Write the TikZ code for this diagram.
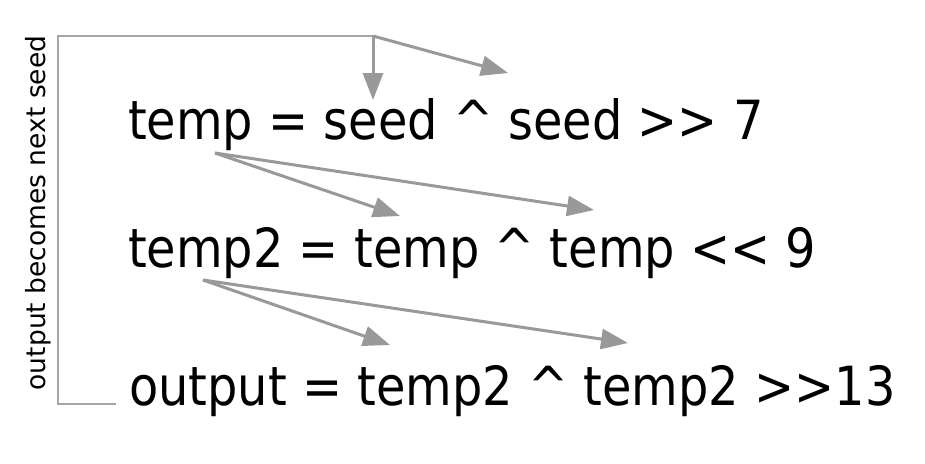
\documentclass[tikz,border=0pt]{standalone}
\usepackage{fontspec}
\newfontfamily\mainfnt[FakeStretch=0.886]{DejaVu Sans}
\newfontfamily\labfnt{DejaVu Sans}
\usetikzlibrary{arrows.meta}
\definecolor{arrgray}{HTML}{999999}
\definecolor{brgray}{HTML}{A6A6A6}
\begin{document}
\begin{tikzpicture}[x=1pt,y=1pt,
  code/.style={inner sep=0pt,anchor=base west,font=\mainfnt\fontsize{54}{60}\selectfont},
  sidelabel/.style={inner sep=0pt,anchor=base,rotate=90,font=\labfnt\fontsize{26.5}{30}\selectfont},
  flow/.style={draw=arrgray,line width=3pt,-{Triangle[length=27pt,width=20pt]}},
  bracket/.style={draw=brgray,line width=2.2pt}]
\useasboundingbox (0,0) rectangle (925,-463);
\node[code] (l1) at (128,-139) {temp = seed \^{} seed >> 7};
\node[code] (l2) at (128,-267) {temp2 = temp \^{} temp << 9};
\node[code] (l3) at (129,-405) {output = temp2 \^{} temp2 >>13};
\node[sidelabel] (lab) at (45,-213) {output becomes next seed};
\coordinate (b0) at (116,-404);
\coordinate (bl) at (58,-404);
\coordinate (tl) at (58,-36);
\coordinate (j) at (373,-36);
\coordinate (t1) at (373,-100);
\coordinate (t2) at (508,-73);
\coordinate (s1) at (215,-153);
\coordinate (u1) at (400,-216);
\coordinate (u2) at (594,-210);
\coordinate (s2) at (203,-280);
\coordinate (v1) at (390,-345);
\coordinate (v2) at (628,-343);
\draw[bracket] (b0) -- (bl) -- (tl) -- (j);
\draw[flow] (j) -- (t1);
\draw[flow] (j) -- (t2);
\draw[flow] (s1) -- (u1);
\draw[flow] (s1) -- (u2);
\draw[flow] (s2) -- (v1);
\draw[flow] (s2) -- (v2);
\end{tikzpicture}
\end{document}
